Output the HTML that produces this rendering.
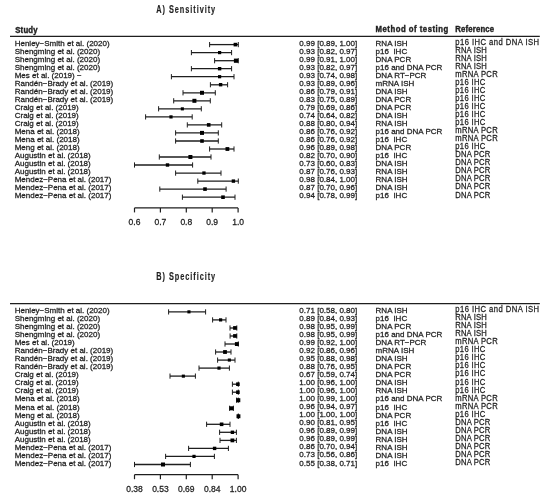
<!DOCTYPE html>
<html><head><meta charset="utf-8"><title>Forest plot</title>
<style>
html,body{margin:0;padding:0;background:#fff;}
body{width:550px;height:501px;overflow:hidden;}
svg{display:block;}
text{font-family:"Liberation Sans",Arial,sans-serif;fill:#1e1e1e;stroke:#1e1e1e;stroke-width:0.26px;white-space:pre;}
</style></head><body>
<svg width="550" height="501" viewBox="0 0 550 501">
<rect width="550" height="501" fill="#fff"/>
<text transform="translate(156.3 12.8) scale(0.72 1)" x="0" y="0" font-size="10.2" font-weight="bold" style="stroke-width:0.15px" textLength="81.8" lengthAdjust="spacing">A) Sensitivity</text>
<text transform="translate(15.2 33.1) scale(0.9 1)" x="0" y="0" font-size="8.6" font-weight="bold" textLength="24.9" lengthAdjust="spacing" style="stroke-width:0.4px" xml:space="preserve">Study</text>
<text transform="translate(375.6 31.8) scale(0.9 1)" x="0" y="0" font-size="8.6" font-weight="bold" textLength="80.6" lengthAdjust="spacing" style="stroke-width:0.4px" xml:space="preserve">Method of testing</text>
<text transform="translate(455.2 32.4) scale(0.9 1)" x="0" y="0" font-size="8.6" font-weight="bold" textLength="43.3" lengthAdjust="spacing" style="stroke-width:0.4px" xml:space="preserve">Reference</text>
<line x1="10" y1="36.4" x2="539.8" y2="36.4" stroke="#1e1e1e" stroke-width="1.2"/>
<text x="14.7" y="45.8" font-size="8" xml:space="preserve">Henley−Smith et al. (2020)</text>
<text x="357.2" y="45.6" font-size="8" text-anchor="end" xml:space="preserve">0.99 [0.89, 1.00]</text>
<text x="375.6" y="45.8" font-size="8" xml:space="preserve">RNA ISH</text>
<text transform="translate(455.3 44.9) scale(0.9 1)" x="0" y="0" font-size="8.5" textLength="93.1" lengthAdjust="spacing" xml:space="preserve">p16 IHC and DNA ISH</text>
<line x1="209.6" y1="44.6" x2="238.3" y2="44.6" stroke="#1e1e1e" stroke-width="1.3"/>
<line x1="209.6" y1="42.0" x2="209.6" y2="47.2" stroke="#1e1e1e" stroke-width="1"/>
<line x1="238.3" y1="42.0" x2="238.3" y2="47.2" stroke="#1e1e1e" stroke-width="1"/>
<rect x="233.6" y="42.8" width="3.6" height="3.6" fill="#000"/>
<text x="14.7" y="53.8" font-size="8" xml:space="preserve">Shengming et al. (2020)</text>
<text x="357.2" y="53.6" font-size="8" text-anchor="end" xml:space="preserve">0.93 [0.82, 0.97]</text>
<text x="375.6" y="53.8" font-size="8" xml:space="preserve">p16  IHC</text>
<text transform="translate(455.3 52.9) scale(0.9 1)" x="0" y="0" font-size="8.5" textLength="34.9" lengthAdjust="spacing" xml:space="preserve">RNA ISH</text>
<line x1="191.4" y1="52.6" x2="231.6" y2="52.6" stroke="#1e1e1e" stroke-width="1.3"/>
<line x1="191.4" y1="50.0" x2="191.4" y2="55.2" stroke="#1e1e1e" stroke-width="1"/>
<line x1="231.6" y1="50.0" x2="231.6" y2="55.2" stroke="#1e1e1e" stroke-width="1"/>
<rect x="218.0" y="51.0" width="3.2" height="3.2" fill="#000"/>
<text x="14.7" y="61.9" font-size="8" xml:space="preserve">Shengming et al. (2020)</text>
<text x="357.2" y="61.7" font-size="8" text-anchor="end" xml:space="preserve">0.99 [0.91, 1.00]</text>
<text x="375.6" y="61.9" font-size="8" xml:space="preserve">DNA PCR</text>
<text transform="translate(455.3 61.0) scale(0.9 1)" x="0" y="0" font-size="8.5" textLength="34.9" lengthAdjust="spacing" xml:space="preserve">RNA ISH</text>
<line x1="214.6" y1="60.7" x2="238.3" y2="60.7" stroke="#1e1e1e" stroke-width="1.3"/>
<line x1="214.6" y1="58.1" x2="214.6" y2="63.3" stroke="#1e1e1e" stroke-width="1"/>
<line x1="238.3" y1="58.1" x2="238.3" y2="63.3" stroke="#1e1e1e" stroke-width="1"/>
<rect x="233.9" y="58.6" width="4.2" height="4.2" fill="#000"/>
<text x="14.7" y="69.9" font-size="8" xml:space="preserve">Shengming et al. (2020)</text>
<text x="357.2" y="69.7" font-size="8" text-anchor="end" xml:space="preserve">0.93 [0.82, 0.97]</text>
<text x="375.6" y="69.9" font-size="8" xml:space="preserve">p16 and DNA PCR</text>
<text transform="translate(455.3 69.0) scale(0.9 1)" x="0" y="0" font-size="8.5" textLength="34.9" lengthAdjust="spacing" xml:space="preserve">RNA ISH</text>
<line x1="191.4" y1="68.7" x2="231.6" y2="68.7" stroke="#1e1e1e" stroke-width="1.3"/>
<line x1="191.4" y1="66.1" x2="191.4" y2="71.3" stroke="#1e1e1e" stroke-width="1"/>
<line x1="231.6" y1="66.1" x2="231.6" y2="71.3" stroke="#1e1e1e" stroke-width="1"/>
<rect x="217.9" y="67.0" width="3.4" height="3.4" fill="#000"/>
<text x="14.7" y="77.9" font-size="8" xml:space="preserve">Mes et al. (2019) −</text>
<text x="357.2" y="77.7" font-size="8" text-anchor="end" xml:space="preserve">0.93 [0.74, 0.98]</text>
<text x="375.6" y="77.9" font-size="8" xml:space="preserve">DNA RT−PCR</text>
<text transform="translate(455.3 77.0) scale(0.9 1)" x="0" y="0" font-size="8.5" textLength="47.1" lengthAdjust="spacing" xml:space="preserve">mRNA PCR</text>
<line x1="171.4" y1="76.7" x2="234.0" y2="76.7" stroke="#1e1e1e" stroke-width="1.3"/>
<line x1="171.4" y1="74.1" x2="171.4" y2="79.3" stroke="#1e1e1e" stroke-width="1"/>
<line x1="234.0" y1="74.1" x2="234.0" y2="79.3" stroke="#1e1e1e" stroke-width="1"/>
<rect x="218.0" y="75.1" width="3.2" height="3.2" fill="#000"/>
<text x="14.7" y="86.0" font-size="8" xml:space="preserve">Randén−Brady et al. (2019)</text>
<text x="357.2" y="85.8" font-size="8" text-anchor="end" xml:space="preserve">0.93 [0.89, 0.96]</text>
<text x="375.6" y="86.0" font-size="8" xml:space="preserve">mRNA ISH</text>
<text transform="translate(455.3 85.0) scale(0.9 1)" x="0" y="0" font-size="8.5" textLength="33.3" lengthAdjust="spacing" xml:space="preserve">p16 IHC</text>
<line x1="210.4" y1="84.8" x2="227.6" y2="84.8" stroke="#1e1e1e" stroke-width="1.3"/>
<line x1="210.4" y1="82.2" x2="210.4" y2="87.3" stroke="#1e1e1e" stroke-width="1"/>
<line x1="227.6" y1="82.2" x2="227.6" y2="87.3" stroke="#1e1e1e" stroke-width="1"/>
<rect x="218.9" y="83.0" width="3.4" height="3.4" fill="#000"/>
<text x="14.7" y="94.0" font-size="8" xml:space="preserve">Randén−Brady et al. (2019)</text>
<text x="357.2" y="93.8" font-size="8" text-anchor="end" xml:space="preserve">0.86 [0.79, 0.91]</text>
<text x="375.6" y="94.0" font-size="8" xml:space="preserve">DNA ISH</text>
<text transform="translate(455.3 93.1) scale(0.9 1)" x="0" y="0" font-size="8.5" textLength="33.3" lengthAdjust="spacing" xml:space="preserve">p16 IHC</text>
<line x1="183.0" y1="92.8" x2="215.3" y2="92.8" stroke="#1e1e1e" stroke-width="1.3"/>
<line x1="183.0" y1="90.2" x2="183.0" y2="95.4" stroke="#1e1e1e" stroke-width="1"/>
<line x1="215.3" y1="90.2" x2="215.3" y2="95.4" stroke="#1e1e1e" stroke-width="1"/>
<rect x="200.0" y="90.8" width="4.0" height="4.0" fill="#000"/>
<text x="14.7" y="102.0" font-size="8" xml:space="preserve">Randén−Brady et al. (2019)</text>
<text x="357.2" y="101.8" font-size="8" text-anchor="end" xml:space="preserve">0.83 [0.75, 0.89]</text>
<text x="375.6" y="102.0" font-size="8" xml:space="preserve">DNA PCR</text>
<text transform="translate(455.3 101.1) scale(0.9 1)" x="0" y="0" font-size="8.5" textLength="33.3" lengthAdjust="spacing" xml:space="preserve">p16 IHC</text>
<line x1="173.7" y1="100.8" x2="210.3" y2="100.8" stroke="#1e1e1e" stroke-width="1.3"/>
<line x1="173.7" y1="98.2" x2="173.7" y2="103.4" stroke="#1e1e1e" stroke-width="1"/>
<line x1="210.3" y1="98.2" x2="210.3" y2="103.4" stroke="#1e1e1e" stroke-width="1"/>
<rect x="192.4" y="98.8" width="4.0" height="4.0" fill="#000"/>
<text x="14.7" y="110.0" font-size="8" xml:space="preserve">Craig et al. (2019)</text>
<text x="357.2" y="109.8" font-size="8" text-anchor="end" xml:space="preserve">0.79 [0.69, 0.86]</text>
<text x="375.6" y="110.0" font-size="8" xml:space="preserve">DNA PCR</text>
<text transform="translate(455.3 109.1) scale(0.9 1)" x="0" y="0" font-size="8.5" textLength="33.3" lengthAdjust="spacing" xml:space="preserve">p16 IHC</text>
<line x1="158.6" y1="108.8" x2="201.3" y2="108.8" stroke="#1e1e1e" stroke-width="1.3"/>
<line x1="158.6" y1="106.2" x2="158.6" y2="111.4" stroke="#1e1e1e" stroke-width="1"/>
<line x1="201.3" y1="106.2" x2="201.3" y2="111.4" stroke="#1e1e1e" stroke-width="1"/>
<rect x="180.8" y="107.3" width="3.1" height="3.1" fill="#000"/>
<text x="14.7" y="118.1" font-size="8" xml:space="preserve">Craig et al. (2019)</text>
<text x="357.2" y="117.9" font-size="8" text-anchor="end" xml:space="preserve">0.74 [0.64, 0.82]</text>
<text x="375.6" y="118.1" font-size="8" xml:space="preserve">DNA ISH</text>
<text transform="translate(455.3 117.2) scale(0.9 1)" x="0" y="0" font-size="8.5" textLength="33.3" lengthAdjust="spacing" xml:space="preserve">p16 IHC</text>
<line x1="145.6" y1="116.9" x2="192.2" y2="116.9" stroke="#1e1e1e" stroke-width="1.3"/>
<line x1="145.6" y1="114.3" x2="145.6" y2="119.5" stroke="#1e1e1e" stroke-width="1"/>
<line x1="192.2" y1="114.3" x2="192.2" y2="119.5" stroke="#1e1e1e" stroke-width="1"/>
<rect x="169.4" y="115.3" width="3.2" height="3.2" fill="#000"/>
<text x="14.7" y="126.1" font-size="8" xml:space="preserve">Craig et al. (2019)</text>
<text x="357.2" y="125.9" font-size="8" text-anchor="end" xml:space="preserve">0.88 [0.80, 0.94]</text>
<text x="375.6" y="126.1" font-size="8" xml:space="preserve">RNA ISH</text>
<text transform="translate(455.3 125.2) scale(0.9 1)" x="0" y="0" font-size="8.5" textLength="33.3" lengthAdjust="spacing" xml:space="preserve">p16 IHC</text>
<line x1="187.3" y1="124.9" x2="221.7" y2="124.9" stroke="#1e1e1e" stroke-width="1.3"/>
<line x1="187.3" y1="122.3" x2="187.3" y2="127.5" stroke="#1e1e1e" stroke-width="1"/>
<line x1="221.7" y1="122.3" x2="221.7" y2="127.5" stroke="#1e1e1e" stroke-width="1"/>
<rect x="206.9" y="123.1" width="3.6" height="3.6" fill="#000"/>
<text x="14.7" y="134.1" font-size="8" xml:space="preserve">Mena et al. (2018)</text>
<text x="357.2" y="133.9" font-size="8" text-anchor="end" xml:space="preserve">0.86 [0.76, 0.92]</text>
<text x="375.6" y="134.1" font-size="8" xml:space="preserve">p16 and DNA PCR</text>
<text transform="translate(455.3 133.2) scale(0.9 1)" x="0" y="0" font-size="8.5" textLength="47.1" lengthAdjust="spacing" xml:space="preserve">mRNA PCR</text>
<line x1="175.6" y1="132.9" x2="218.3" y2="132.9" stroke="#1e1e1e" stroke-width="1.3"/>
<line x1="175.6" y1="130.3" x2="175.6" y2="135.5" stroke="#1e1e1e" stroke-width="1"/>
<line x1="218.3" y1="130.3" x2="218.3" y2="135.5" stroke="#1e1e1e" stroke-width="1"/>
<rect x="200.0" y="130.9" width="4.0" height="4.0" fill="#000"/>
<text x="14.7" y="142.2" font-size="8" xml:space="preserve">Mena et al. (2018)</text>
<text x="357.2" y="142.0" font-size="8" text-anchor="end" xml:space="preserve">0.86 [0.76, 0.92]</text>
<text x="375.6" y="142.2" font-size="8" xml:space="preserve">p16  IHC</text>
<text transform="translate(455.3 141.3) scale(0.9 1)" x="0" y="0" font-size="8.5" textLength="47.1" lengthAdjust="spacing" xml:space="preserve">mRNA PCR</text>
<line x1="175.6" y1="141.0" x2="218.3" y2="141.0" stroke="#1e1e1e" stroke-width="1.3"/>
<line x1="175.6" y1="138.4" x2="175.6" y2="143.6" stroke="#1e1e1e" stroke-width="1"/>
<line x1="218.3" y1="138.4" x2="218.3" y2="143.6" stroke="#1e1e1e" stroke-width="1"/>
<rect x="200.2" y="139.2" width="3.6" height="3.6" fill="#000"/>
<text x="14.7" y="150.2" font-size="8" xml:space="preserve">Meng et al. (2018)</text>
<text x="357.2" y="150.0" font-size="8" text-anchor="end" xml:space="preserve">0.96 [0.89, 0.98]</text>
<text x="375.6" y="150.2" font-size="8" xml:space="preserve">DNA PCR</text>
<text transform="translate(455.3 149.3) scale(0.9 1)" x="0" y="0" font-size="8.5" textLength="33.3" lengthAdjust="spacing" xml:space="preserve">p16 IHC</text>
<line x1="209.6" y1="149.0" x2="234.0" y2="149.0" stroke="#1e1e1e" stroke-width="1.3"/>
<line x1="209.6" y1="146.4" x2="209.6" y2="151.6" stroke="#1e1e1e" stroke-width="1"/>
<line x1="234.0" y1="146.4" x2="234.0" y2="151.6" stroke="#1e1e1e" stroke-width="1"/>
<rect x="225.5" y="147.1" width="3.8" height="3.8" fill="#000"/>
<text x="14.7" y="158.2" font-size="8" xml:space="preserve">Augustin et al. (2018)</text>
<text x="357.2" y="158.0" font-size="8" text-anchor="end" xml:space="preserve">0.82 [0.70, 0.90]</text>
<text x="375.6" y="158.2" font-size="8" xml:space="preserve">p16  IHC</text>
<text transform="translate(455.3 157.3) scale(0.9 1)" x="0" y="0" font-size="8.5" textLength="38.8" lengthAdjust="spacing" xml:space="preserve">DNA PCR</text>
<line x1="159.3" y1="157.0" x2="211.0" y2="157.0" stroke="#1e1e1e" stroke-width="1.3"/>
<line x1="159.3" y1="154.4" x2="159.3" y2="159.6" stroke="#1e1e1e" stroke-width="1"/>
<line x1="211.0" y1="154.4" x2="211.0" y2="159.6" stroke="#1e1e1e" stroke-width="1"/>
<rect x="188.4" y="155.0" width="4.0" height="4.0" fill="#000"/>
<text x="14.7" y="166.2" font-size="8" xml:space="preserve">Augustin et al. (2018)</text>
<text x="357.2" y="166.0" font-size="8" text-anchor="end" xml:space="preserve">0.73 [0.60, 0.83]</text>
<text x="375.6" y="166.2" font-size="8" xml:space="preserve">DNA ISH</text>
<text transform="translate(455.3 165.3) scale(0.9 1)" x="0" y="0" font-size="8.5" textLength="38.8" lengthAdjust="spacing" xml:space="preserve">DNA PCR</text>
<line x1="134.5" y1="165.0" x2="192.6" y2="165.0" stroke="#1e1e1e" stroke-width="1.3"/>
<line x1="134.5" y1="162.4" x2="134.5" y2="167.6" stroke="#1e1e1e" stroke-width="1"/>
<line x1="192.6" y1="162.4" x2="192.6" y2="167.6" stroke="#1e1e1e" stroke-width="1"/>
<rect x="165.8" y="163.3" width="3.4" height="3.4" fill="#000"/>
<text x="14.7" y="174.3" font-size="8" xml:space="preserve">Augustin et al. (2018)</text>
<text x="357.2" y="174.1" font-size="8" text-anchor="end" xml:space="preserve">0.87 [0.76, 0.93]</text>
<text x="375.6" y="174.3" font-size="8" xml:space="preserve">RNA ISH</text>
<text transform="translate(455.3 173.4) scale(0.9 1)" x="0" y="0" font-size="8.5" textLength="38.8" lengthAdjust="spacing" xml:space="preserve">DNA PCR</text>
<line x1="175.6" y1="173.1" x2="221.0" y2="173.1" stroke="#1e1e1e" stroke-width="1.3"/>
<line x1="175.6" y1="170.5" x2="175.6" y2="175.7" stroke="#1e1e1e" stroke-width="1"/>
<line x1="221.0" y1="170.5" x2="221.0" y2="175.7" stroke="#1e1e1e" stroke-width="1"/>
<rect x="202.3" y="171.4" width="3.3" height="3.3" fill="#000"/>
<text x="14.7" y="182.3" font-size="8" xml:space="preserve">Mendez−Pena et al. (2017)</text>
<text x="357.2" y="182.1" font-size="8" text-anchor="end" xml:space="preserve">0.98 [0.84, 1.00]</text>
<text x="375.6" y="182.3" font-size="8" xml:space="preserve">RNA ISH</text>
<text transform="translate(455.3 181.4) scale(0.9 1)" x="0" y="0" font-size="8.5" textLength="38.8" lengthAdjust="spacing" xml:space="preserve">DNA PCR</text>
<line x1="197.8" y1="181.1" x2="238.3" y2="181.1" stroke="#1e1e1e" stroke-width="1.3"/>
<line x1="197.8" y1="178.5" x2="197.8" y2="183.7" stroke="#1e1e1e" stroke-width="1"/>
<line x1="238.3" y1="178.5" x2="238.3" y2="183.7" stroke="#1e1e1e" stroke-width="1"/>
<rect x="231.7" y="179.4" width="3.4" height="3.4" fill="#000"/>
<text x="14.7" y="190.3" font-size="8" xml:space="preserve">Mendez−Pena et al. (2017)</text>
<text x="357.2" y="190.1" font-size="8" text-anchor="end" xml:space="preserve">0.87 [0.70, 0.96]</text>
<text x="375.6" y="190.3" font-size="8" xml:space="preserve">DNA ISH</text>
<text transform="translate(455.3 189.4) scale(0.9 1)" x="0" y="0" font-size="8.5" textLength="38.8" lengthAdjust="spacing" xml:space="preserve">DNA PCR</text>
<line x1="159.8" y1="189.1" x2="226.1" y2="189.1" stroke="#1e1e1e" stroke-width="1.3"/>
<line x1="159.8" y1="186.5" x2="159.8" y2="191.7" stroke="#1e1e1e" stroke-width="1"/>
<line x1="226.1" y1="186.5" x2="226.1" y2="191.7" stroke="#1e1e1e" stroke-width="1"/>
<rect x="203.2" y="187.3" width="3.6" height="3.6" fill="#000"/>
<text x="14.7" y="198.4" font-size="8" xml:space="preserve">Mendez−Pena et al. (2017)</text>
<text x="357.2" y="198.2" font-size="8" text-anchor="end" xml:space="preserve">0.94 [0.78, 0.99]</text>
<text x="375.6" y="198.4" font-size="8" xml:space="preserve">p16  IHC</text>
<text transform="translate(455.3 197.5) scale(0.9 1)" x="0" y="0" font-size="8.5" textLength="38.8" lengthAdjust="spacing" xml:space="preserve">DNA PCR</text>
<line x1="182.4" y1="197.2" x2="235.0" y2="197.2" stroke="#1e1e1e" stroke-width="1.3"/>
<line x1="182.4" y1="194.6" x2="182.4" y2="199.8" stroke="#1e1e1e" stroke-width="1"/>
<line x1="235.0" y1="194.6" x2="235.0" y2="199.8" stroke="#1e1e1e" stroke-width="1"/>
<rect x="221.2" y="195.4" width="3.6" height="3.6" fill="#000"/>
<line x1="134.5" y1="207.9" x2="238.1" y2="207.9" stroke="#1e1e1e" stroke-width="1.2"/>
<line x1="134.5" y1="207.9" x2="134.5" y2="212.4" stroke="#1e1e1e" stroke-width="1.2"/>
<text x="134.5" y="224.8" font-size="8.5" text-anchor="middle" xml:space="preserve">0.6</text>
<line x1="160.4" y1="207.9" x2="160.4" y2="212.4" stroke="#1e1e1e" stroke-width="1.2"/>
<text x="160.4" y="224.8" font-size="8.5" text-anchor="middle" xml:space="preserve">0.7</text>
<line x1="186.3" y1="207.9" x2="186.3" y2="212.4" stroke="#1e1e1e" stroke-width="1.2"/>
<text x="186.3" y="224.8" font-size="8.5" text-anchor="middle" xml:space="preserve">0.8</text>
<line x1="212.2" y1="207.9" x2="212.2" y2="212.4" stroke="#1e1e1e" stroke-width="1.2"/>
<text x="212.2" y="224.8" font-size="8.5" text-anchor="middle" xml:space="preserve">0.9</text>
<line x1="238.1" y1="207.9" x2="238.1" y2="212.4" stroke="#1e1e1e" stroke-width="1.2"/>
<text x="238.1" y="224.8" font-size="8.5" text-anchor="middle" xml:space="preserve">1.0</text>
<text transform="translate(156.3 280.3) scale(0.72 1)" x="0" y="0" font-size="10.2" font-weight="bold" style="stroke-width:0.15px" textLength="81.8" lengthAdjust="spacing">B) Specificity</text>
<line x1="10" y1="303.6" x2="539.8" y2="303.6" stroke="#1e1e1e" stroke-width="1.2"/>
<text x="14.7" y="313.1" font-size="8" xml:space="preserve">Henley−Smith et al. (2020)</text>
<text x="357.2" y="312.9" font-size="8" text-anchor="end" xml:space="preserve">0.71 [0.58, 0.80]</text>
<text x="375.6" y="313.1" font-size="8" xml:space="preserve">RNA ISH</text>
<text transform="translate(455.3 312.2) scale(0.9 1)" x="0" y="0" font-size="8.5" textLength="93.1" lengthAdjust="spacing" xml:space="preserve">p16 IHC and DNA ISH</text>
<line x1="168.6" y1="311.9" x2="205.6" y2="311.9" stroke="#1e1e1e" stroke-width="1.3"/>
<line x1="168.6" y1="309.3" x2="168.6" y2="314.5" stroke="#1e1e1e" stroke-width="1"/>
<line x1="205.6" y1="309.3" x2="205.6" y2="314.5" stroke="#1e1e1e" stroke-width="1"/>
<rect x="187.4" y="310.3" width="3.1" height="3.1" fill="#000"/>
<text x="14.7" y="321.1" font-size="8" xml:space="preserve">Shengming et al. (2020)</text>
<text x="357.2" y="320.9" font-size="8" text-anchor="end" xml:space="preserve">0.89 [0.84, 0.93]</text>
<text x="375.6" y="321.1" font-size="8" xml:space="preserve">p16  IHC</text>
<text transform="translate(455.3 320.2) scale(0.9 1)" x="0" y="0" font-size="8.5" textLength="34.9" lengthAdjust="spacing" xml:space="preserve">RNA ISH</text>
<line x1="212.6" y1="319.9" x2="226.0" y2="319.9" stroke="#1e1e1e" stroke-width="1.3"/>
<line x1="212.6" y1="317.3" x2="212.6" y2="322.5" stroke="#1e1e1e" stroke-width="1"/>
<line x1="226.0" y1="317.3" x2="226.0" y2="322.5" stroke="#1e1e1e" stroke-width="1"/>
<rect x="219.0" y="318.3" width="3.2" height="3.2" fill="#000"/>
<text x="14.7" y="329.2" font-size="8" xml:space="preserve">Shengming et al. (2020)</text>
<text x="357.2" y="329.0" font-size="8" text-anchor="end" xml:space="preserve">0.98 [0.95, 0.99]</text>
<text x="375.6" y="329.2" font-size="8" xml:space="preserve">DNA PCR</text>
<text transform="translate(455.3 328.3) scale(0.9 1)" x="0" y="0" font-size="8.5" textLength="34.9" lengthAdjust="spacing" xml:space="preserve">RNA ISH</text>
<line x1="230.0" y1="328.0" x2="236.8" y2="328.0" stroke="#1e1e1e" stroke-width="1.3"/>
<line x1="230.0" y1="325.4" x2="230.0" y2="330.6" stroke="#1e1e1e" stroke-width="1"/>
<line x1="236.8" y1="325.4" x2="236.8" y2="330.6" stroke="#1e1e1e" stroke-width="1"/>
<rect x="233.1" y="326.1" width="3.7" height="3.7" fill="#000"/>
<text x="14.7" y="337.2" font-size="8" xml:space="preserve">Shengming et al. (2020)</text>
<text x="357.2" y="337.0" font-size="8" text-anchor="end" xml:space="preserve">0.98 [0.95, 0.99]</text>
<text x="375.6" y="337.2" font-size="8" xml:space="preserve">p16 and DNA PCR</text>
<text transform="translate(455.3 336.3) scale(0.9 1)" x="0" y="0" font-size="8.5" textLength="34.9" lengthAdjust="spacing" xml:space="preserve">RNA ISH</text>
<line x1="230.1" y1="336.0" x2="236.8" y2="336.0" stroke="#1e1e1e" stroke-width="1.3"/>
<line x1="230.1" y1="333.4" x2="230.1" y2="338.6" stroke="#1e1e1e" stroke-width="1"/>
<line x1="236.8" y1="333.4" x2="236.8" y2="338.6" stroke="#1e1e1e" stroke-width="1"/>
<rect x="233.1" y="334.1" width="3.7" height="3.7" fill="#000"/>
<text x="14.7" y="345.2" font-size="8" xml:space="preserve">Mes et al. (2019)</text>
<text x="357.2" y="345.0" font-size="8" text-anchor="end" xml:space="preserve">0.99 [0.92, 1.00]</text>
<text x="375.6" y="345.2" font-size="8" xml:space="preserve">DNA RT−PCR</text>
<text transform="translate(455.3 344.3) scale(0.9 1)" x="0" y="0" font-size="8.5" textLength="47.1" lengthAdjust="spacing" xml:space="preserve">mRNA PCR</text>
<line x1="225.0" y1="344.0" x2="238.3" y2="344.0" stroke="#1e1e1e" stroke-width="1.3"/>
<line x1="225.0" y1="341.4" x2="225.0" y2="346.6" stroke="#1e1e1e" stroke-width="1"/>
<line x1="238.3" y1="341.4" x2="238.3" y2="346.6" stroke="#1e1e1e" stroke-width="1"/>
<rect x="234.9" y="342.1" width="3.9" height="3.9" fill="#000"/>
<text x="14.7" y="353.2" font-size="8" xml:space="preserve">Randén−Brady et al. (2019)</text>
<text x="357.2" y="353.0" font-size="8" text-anchor="end" xml:space="preserve">0.92 [0.86, 0.96]</text>
<text x="375.6" y="353.2" font-size="8" xml:space="preserve">mRNA ISH</text>
<text transform="translate(455.3 352.3) scale(0.9 1)" x="0" y="0" font-size="8.5" textLength="33.3" lengthAdjust="spacing" xml:space="preserve">p16 IHC</text>
<line x1="215.6" y1="352.0" x2="231.0" y2="352.0" stroke="#1e1e1e" stroke-width="1.3"/>
<line x1="215.6" y1="349.4" x2="215.6" y2="354.6" stroke="#1e1e1e" stroke-width="1"/>
<line x1="231.0" y1="349.4" x2="231.0" y2="354.6" stroke="#1e1e1e" stroke-width="1"/>
<rect x="223.1" y="350.1" width="3.8" height="3.8" fill="#000"/>
<text x="14.7" y="361.3" font-size="8" xml:space="preserve">Randén−Brady et al. (2019)</text>
<text x="357.2" y="361.1" font-size="8" text-anchor="end" xml:space="preserve">0.95 [0.88, 0.98]</text>
<text x="375.6" y="361.3" font-size="8" xml:space="preserve">DNA ISH</text>
<text transform="translate(455.3 360.4) scale(0.9 1)" x="0" y="0" font-size="8.5" textLength="33.3" lengthAdjust="spacing" xml:space="preserve">p16 IHC</text>
<line x1="217.6" y1="360.1" x2="235.0" y2="360.1" stroke="#1e1e1e" stroke-width="1.3"/>
<line x1="217.6" y1="357.5" x2="217.6" y2="362.7" stroke="#1e1e1e" stroke-width="1"/>
<line x1="235.0" y1="357.5" x2="235.0" y2="362.7" stroke="#1e1e1e" stroke-width="1"/>
<rect x="227.8" y="358.5" width="3.1" height="3.1" fill="#000"/>
<text x="14.7" y="369.3" font-size="8" xml:space="preserve">Randén−Brady et al. (2019)</text>
<text x="357.2" y="369.1" font-size="8" text-anchor="end" xml:space="preserve">0.88 [0.76, 0.95]</text>
<text x="375.6" y="369.3" font-size="8" xml:space="preserve">DNA PCR</text>
<text transform="translate(455.3 368.4) scale(0.9 1)" x="0" y="0" font-size="8.5" textLength="33.3" lengthAdjust="spacing" xml:space="preserve">p16 IHC</text>
<line x1="199.0" y1="368.1" x2="229.4" y2="368.1" stroke="#1e1e1e" stroke-width="1.3"/>
<line x1="199.0" y1="365.5" x2="199.0" y2="370.7" stroke="#1e1e1e" stroke-width="1"/>
<line x1="229.4" y1="365.5" x2="229.4" y2="370.7" stroke="#1e1e1e" stroke-width="1"/>
<rect x="217.4" y="366.5" width="3.2" height="3.2" fill="#000"/>
<text x="14.7" y="377.3" font-size="8" xml:space="preserve">Craig et al. (2019)</text>
<text x="357.2" y="377.1" font-size="8" text-anchor="end" xml:space="preserve">0.67 [0.59, 0.74]</text>
<text x="375.6" y="377.3" font-size="8" xml:space="preserve">DNA PCR</text>
<text transform="translate(455.3 376.4) scale(0.9 1)" x="0" y="0" font-size="8.5" textLength="33.3" lengthAdjust="spacing" xml:space="preserve">p16 IHC</text>
<line x1="170.0" y1="376.1" x2="195.4" y2="376.1" stroke="#1e1e1e" stroke-width="1.3"/>
<line x1="170.0" y1="373.5" x2="170.0" y2="378.7" stroke="#1e1e1e" stroke-width="1"/>
<line x1="195.4" y1="373.5" x2="195.4" y2="378.7" stroke="#1e1e1e" stroke-width="1"/>
<rect x="181.8" y="374.6" width="3.1" height="3.1" fill="#000"/>
<text x="14.7" y="385.4" font-size="8" xml:space="preserve">Craig et al. (2019)</text>
<text x="357.2" y="385.2" font-size="8" text-anchor="end" xml:space="preserve">1.00 [0.96, 1.00]</text>
<text x="375.6" y="385.4" font-size="8" xml:space="preserve">DNA ISH</text>
<text transform="translate(455.3 384.5) scale(0.9 1)" x="0" y="0" font-size="8.5" textLength="33.3" lengthAdjust="spacing" xml:space="preserve">p16 IHC</text>
<line x1="232.4" y1="384.2" x2="238.3" y2="384.2" stroke="#1e1e1e" stroke-width="1.3"/>
<line x1="232.4" y1="381.6" x2="232.4" y2="386.8" stroke="#1e1e1e" stroke-width="1"/>
<line x1="238.3" y1="381.6" x2="238.3" y2="386.8" stroke="#1e1e1e" stroke-width="1"/>
<rect x="236.1" y="382.4" width="3.6" height="3.6" fill="#000"/>
<text x="14.7" y="393.4" font-size="8" xml:space="preserve">Craig et al. (2019)</text>
<text x="357.2" y="393.2" font-size="8" text-anchor="end" xml:space="preserve">1.00 [0.96, 1.00]</text>
<text x="375.6" y="393.4" font-size="8" xml:space="preserve">RNA ISH</text>
<text transform="translate(455.3 392.5) scale(0.9 1)" x="0" y="0" font-size="8.5" textLength="33.3" lengthAdjust="spacing" xml:space="preserve">p16 IHC</text>
<line x1="232.4" y1="392.2" x2="238.3" y2="392.2" stroke="#1e1e1e" stroke-width="1.3"/>
<line x1="232.4" y1="389.6" x2="232.4" y2="394.8" stroke="#1e1e1e" stroke-width="1"/>
<line x1="238.3" y1="389.6" x2="238.3" y2="394.8" stroke="#1e1e1e" stroke-width="1"/>
<rect x="236.1" y="390.4" width="3.6" height="3.6" fill="#000"/>
<text x="14.7" y="401.4" font-size="8" xml:space="preserve">Mena et al. (2018)</text>
<text x="357.2" y="401.2" font-size="8" text-anchor="end" xml:space="preserve">1.00 [0.99, 1.00]</text>
<text x="375.6" y="401.4" font-size="8" xml:space="preserve">p16 and DNA PCR</text>
<text transform="translate(455.3 400.5) scale(0.9 1)" x="0" y="0" font-size="8.5" textLength="47.1" lengthAdjust="spacing" xml:space="preserve">mRNA PCR</text>
<line x1="236.6" y1="400.2" x2="238.3" y2="400.2" stroke="#1e1e1e" stroke-width="1.3"/>
<line x1="236.6" y1="397.6" x2="236.6" y2="402.8" stroke="#1e1e1e" stroke-width="1"/>
<line x1="238.3" y1="397.6" x2="238.3" y2="402.8" stroke="#1e1e1e" stroke-width="1"/>
<rect x="236.3" y="398.2" width="4.0" height="4.0" fill="#000"/>
<text x="14.7" y="409.5" font-size="8" xml:space="preserve">Mena et al. (2018)</text>
<text x="357.2" y="409.3" font-size="8" text-anchor="end" xml:space="preserve">0.96 [0.94, 0.97]</text>
<text x="375.6" y="409.5" font-size="8" xml:space="preserve">p16  IHC</text>
<text transform="translate(455.3 408.6) scale(0.9 1)" x="0" y="0" font-size="8.5" textLength="47.1" lengthAdjust="spacing" xml:space="preserve">mRNA PCR</text>
<line x1="229.6" y1="408.3" x2="233.4" y2="408.3" stroke="#1e1e1e" stroke-width="1.3"/>
<line x1="229.6" y1="405.7" x2="229.6" y2="410.9" stroke="#1e1e1e" stroke-width="1"/>
<line x1="233.4" y1="405.7" x2="233.4" y2="410.9" stroke="#1e1e1e" stroke-width="1"/>
<rect x="229.5" y="406.3" width="4.0" height="4.0" fill="#000"/>
<text x="14.7" y="417.5" font-size="8" xml:space="preserve">Meng et al. (2018)</text>
<text x="357.2" y="417.3" font-size="8" text-anchor="end" xml:space="preserve">1.00 [1.00, 1.00]</text>
<text x="375.6" y="417.5" font-size="8" xml:space="preserve">DNA PCR</text>
<text transform="translate(455.3 416.6) scale(0.9 1)" x="0" y="0" font-size="8.5" textLength="33.3" lengthAdjust="spacing" xml:space="preserve">p16 IHC</text>
<line x1="238.3" y1="416.3" x2="238.3" y2="416.3" stroke="#1e1e1e" stroke-width="1.3"/>
<line x1="238.3" y1="413.7" x2="238.3" y2="418.9" stroke="#1e1e1e" stroke-width="1"/>
<line x1="238.3" y1="413.7" x2="238.3" y2="418.9" stroke="#1e1e1e" stroke-width="1"/>
<rect x="236.5" y="414.3" width="3.9" height="3.9" fill="#000"/>
<text x="14.7" y="425.5" font-size="8" xml:space="preserve">Augustin et al. (2018)</text>
<text x="357.2" y="425.3" font-size="8" text-anchor="end" xml:space="preserve">0.90 [0.81, 0.95]</text>
<text x="375.6" y="425.5" font-size="8" xml:space="preserve">p16  IHC</text>
<text transform="translate(455.3 424.6) scale(0.9 1)" x="0" y="0" font-size="8.5" textLength="38.8" lengthAdjust="spacing" xml:space="preserve">DNA PCR</text>
<line x1="206.6" y1="424.3" x2="230.0" y2="424.3" stroke="#1e1e1e" stroke-width="1.3"/>
<line x1="206.6" y1="421.7" x2="206.6" y2="426.9" stroke="#1e1e1e" stroke-width="1"/>
<line x1="230.0" y1="421.7" x2="230.0" y2="426.9" stroke="#1e1e1e" stroke-width="1"/>
<rect x="219.8" y="422.5" width="3.6" height="3.6" fill="#000"/>
<text x="14.7" y="433.5" font-size="8" xml:space="preserve">Augustin et al. (2018)</text>
<text x="357.2" y="433.3" font-size="8" text-anchor="end" xml:space="preserve">0.96 [0.89, 0.99]</text>
<text x="375.6" y="433.5" font-size="8" xml:space="preserve">DNA ISH</text>
<text transform="translate(455.3 432.6) scale(0.9 1)" x="0" y="0" font-size="8.5" textLength="38.8" lengthAdjust="spacing" xml:space="preserve">DNA PCR</text>
<line x1="219.6" y1="432.3" x2="236.4" y2="432.3" stroke="#1e1e1e" stroke-width="1.3"/>
<line x1="219.6" y1="429.7" x2="219.6" y2="434.9" stroke="#1e1e1e" stroke-width="1"/>
<line x1="236.4" y1="429.7" x2="236.4" y2="434.9" stroke="#1e1e1e" stroke-width="1"/>
<rect x="230.7" y="430.6" width="3.4" height="3.4" fill="#000"/>
<text x="14.7" y="441.6" font-size="8" xml:space="preserve">Augustin et al. (2018)</text>
<text x="357.2" y="441.4" font-size="8" text-anchor="end" xml:space="preserve">0.96 [0.89, 0.99]</text>
<text x="375.6" y="441.6" font-size="8" xml:space="preserve">RNA ISH</text>
<text transform="translate(455.3 440.7) scale(0.9 1)" x="0" y="0" font-size="8.5" textLength="38.8" lengthAdjust="spacing" xml:space="preserve">DNA PCR</text>
<line x1="220.0" y1="440.4" x2="236.4" y2="440.4" stroke="#1e1e1e" stroke-width="1.3"/>
<line x1="220.0" y1="437.8" x2="220.0" y2="443.0" stroke="#1e1e1e" stroke-width="1"/>
<line x1="236.4" y1="437.8" x2="236.4" y2="443.0" stroke="#1e1e1e" stroke-width="1"/>
<rect x="230.5" y="438.5" width="3.8" height="3.8" fill="#000"/>
<text x="14.7" y="449.6" font-size="8" xml:space="preserve">Mendez−Pena et al. (2017)</text>
<text x="357.2" y="449.4" font-size="8" text-anchor="end" xml:space="preserve">0.86 [0.70, 0.94]</text>
<text x="375.6" y="449.6" font-size="8" xml:space="preserve">RNA ISH</text>
<text transform="translate(455.3 448.7) scale(0.9 1)" x="0" y="0" font-size="8.5" textLength="38.8" lengthAdjust="spacing" xml:space="preserve">DNA PCR</text>
<line x1="188.6" y1="448.4" x2="228.4" y2="448.4" stroke="#1e1e1e" stroke-width="1.3"/>
<line x1="188.6" y1="445.8" x2="188.6" y2="451.0" stroke="#1e1e1e" stroke-width="1"/>
<line x1="228.4" y1="445.8" x2="228.4" y2="451.0" stroke="#1e1e1e" stroke-width="1"/>
<rect x="212.9" y="446.7" width="3.4" height="3.4" fill="#000"/>
<text x="14.7" y="457.6" font-size="8" xml:space="preserve">Mendez−Pena et al. (2017)</text>
<text x="357.2" y="457.4" font-size="8" text-anchor="end" xml:space="preserve">0.73 [0.56, 0.86]</text>
<text x="375.6" y="457.6" font-size="8" xml:space="preserve">DNA ISH</text>
<text transform="translate(455.3 456.7) scale(0.9 1)" x="0" y="0" font-size="8.5" textLength="38.8" lengthAdjust="spacing" xml:space="preserve">DNA PCR</text>
<line x1="165.6" y1="456.4" x2="214.4" y2="456.4" stroke="#1e1e1e" stroke-width="1.3"/>
<line x1="165.6" y1="453.8" x2="165.6" y2="459.0" stroke="#1e1e1e" stroke-width="1"/>
<line x1="214.4" y1="453.8" x2="214.4" y2="459.0" stroke="#1e1e1e" stroke-width="1"/>
<rect x="192.4" y="454.8" width="3.2" height="3.2" fill="#000"/>
<text x="14.7" y="465.7" font-size="8" xml:space="preserve">Mendez−Pena et al. (2017)</text>
<text x="357.2" y="465.5" font-size="8" text-anchor="end" xml:space="preserve">0.55 [0.38, 0.71]</text>
<text x="375.6" y="465.7" font-size="8" xml:space="preserve">p16  IHC</text>
<text transform="translate(455.3 464.8) scale(0.9 1)" x="0" y="0" font-size="8.5" textLength="38.8" lengthAdjust="spacing" xml:space="preserve">DNA PCR</text>
<line x1="134.5" y1="464.5" x2="190.4" y2="464.5" stroke="#1e1e1e" stroke-width="1.3"/>
<line x1="134.5" y1="461.9" x2="134.5" y2="467.1" stroke="#1e1e1e" stroke-width="1"/>
<line x1="190.4" y1="461.9" x2="190.4" y2="467.1" stroke="#1e1e1e" stroke-width="1"/>
<rect x="161.0" y="462.5" width="4.0" height="4.0" fill="#000"/>
<line x1="134.5" y1="474.7" x2="238.1" y2="474.7" stroke="#1e1e1e" stroke-width="1.2"/>
<line x1="134.5" y1="474.7" x2="134.5" y2="479.2" stroke="#1e1e1e" stroke-width="1.2"/>
<text x="134.5" y="491.6" font-size="8.5" text-anchor="middle" xml:space="preserve">0.38</text>
<line x1="160.4" y1="474.7" x2="160.4" y2="479.2" stroke="#1e1e1e" stroke-width="1.2"/>
<text x="160.4" y="491.6" font-size="8.5" text-anchor="middle" xml:space="preserve">0.53</text>
<line x1="186.3" y1="474.7" x2="186.3" y2="479.2" stroke="#1e1e1e" stroke-width="1.2"/>
<text x="186.3" y="491.6" font-size="8.5" text-anchor="middle" xml:space="preserve">0.69</text>
<line x1="212.2" y1="474.7" x2="212.2" y2="479.2" stroke="#1e1e1e" stroke-width="1.2"/>
<text x="212.2" y="491.6" font-size="8.5" text-anchor="middle" xml:space="preserve">0.84</text>
<line x1="238.1" y1="474.7" x2="238.1" y2="479.2" stroke="#1e1e1e" stroke-width="1.2"/>
<text x="238.1" y="491.6" font-size="8.5" text-anchor="middle" xml:space="preserve">1.00</text>
</svg>
</body></html>
